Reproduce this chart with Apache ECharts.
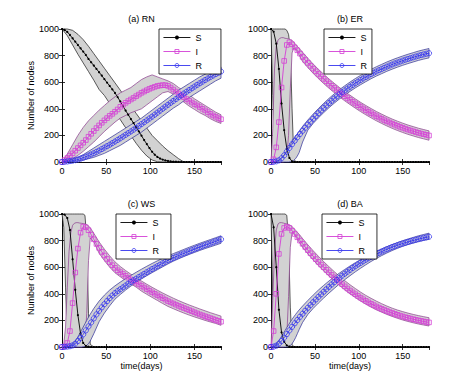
<!DOCTYPE html>
<html><head><meta charset="utf-8">
<script src="https://cdn.jsdelivr.net/npm/echarts@6/dist/echarts.min.js"></script>
<style>html,body{margin:0;padding:0;background:#fff}#c{width:474px;height:389px}</style>
</head><body><div id="c"></div>
<script>
// sample days of the mean curves (every 3 days)
const DAYS = Array.from({length: 61}, (_, i) => i * 3);
// sample days of the band envelopes
const BT_A = [0,6,12,18,24,30,36,42,48,54,60,66,72,78,84,90,96,102,108,114,120,126,132,138,144,150,156,162,168,174,180];
const BT = [0,2,4,6,8,10,12,14,16,18,20,22,24,26,28,30,32,36,42,48,54,60,66,72,78,84,90,96,102,108,114,120,126,132,138,144,150,156,162,168,174,180];

const TITLES = ['(a) RN', '(b) ER', '(c) WS', '(d) BA'];
const NAMES = ['S', 'I', 'R'];

// ---- (a) RN ----
const S_A = [1000,993,978,955,930,905,880,855,830,805,775,750,725,700,675,650,623,597,572,546,519,488,455,420,387,355,323,293,262,230,198,165,135,105,77,55,38,26,18,12,8,5,3,2,1,0,0,0,0,0,0,0,0,0,0,0,0,0,0,0,0];
const I_A = [0,15,30,48,65,85,105,125,145,165,190,212,233,255,275,295,313,330,347,362,378,395,415,430,445,458,470,482,495,507,520,530,540,550,558,565,572,575,578,578,572,560,545,530,515,500,487,473,460,447,435,425,413,400,388,375,362,350,340,330,322];
const R_A = [0,2,4,7,10,14,19,25,32,40,48,57,66,76,86,97,108,119,130,142,154,166,178,191,204,217,230,243,257,271,285,299,313,327,341,356,371,386,401,416,430,445,459,473,487,501,515,528,541,554,567,580,592,604,616,628,639,650,661,671,680];
const S_A_LO = [1000,950,880,810,745,680,615,545,500,440,380,318,258,198,140,88,45,15,2,0,0,0,0,0,0,0,0,0,0,0,0];
const S_A_HI = [1000,1000,990,960,920,870,815,760,705,650,595,540,480,420,365,310,255,200,160,120,85,55,25,0,0,0,0,0,0,0,0];
const I_A_LO = [0,10,25,50,80,115,150,190,230,265,300,330,350,370,385,400,430,460,490,520,530,510,480,450,420,395,370,350,325,305,290];
const I_A_HI = [0,60,130,200,260,310,350,390,425,460,490,520,540,560,590,620,640,655,640,625,610,590,560,535,505,475,450,425,400,375,355];
const R_A_LO = [0,0,3,8,15,25,35,50,65,85,105,125,150,175,200,225,255,285,315,345,375,405,430,460,485,510,535,560,585,610,630];
const R_A_HI = [0,10,20,35,55,80,105,130,155,180,205,230,255,280,305,330,360,390,420,450,480,510,540,565,590,615,640,660,680,700,715];

// ---- (b) ER ----
const S_B = [1000,980,890,700,440,240,100,30,5,0,0,0,0,0,0,0,0,0,0,0,0,0,0,0,0,0,0,0,0,0,0,0,0,0,0,0,0,0,0,0,0,0,0,0,0,0,0,0,0,0,0,0,0,0,0,0,0,0,0,0,0];
const I_B = [0,20,110,300,560,760,880,900,885,862,840,815,790,767,745,723,702,682,662,643,625,607,590,573,557,541,525,510,495,481,467,453,440,427,414,402,390,378,367,356,345,335,325,315,306,297,288,280,272,264,257,250,243,237,231,225,219,214,209,204,199];
const R_B = [0,2,5,12,28,50,78,106,134,160,186,211,235,258,281,303,325,346,367,387,406,425,443,460,477,493,509,524,538,552,566,579,592,604,616,628,639,650,661,671,681,690,699,708,717,725,733,741,748,755,762,769,775,781,787,793,799,804,809,814,818];
const S_B_LO = [1000,500,20,0,0,0,0,0,0,0,0,0,0,0,0,0,0,0,0,0,0,0,0,0,0,0,0,0,0,0,0,0,0,0,0,0,0,0,0,0,0,0];
const S_B_HI = [1000,1000,1000,1000,1000,1000,1000,1000,1000,990,960,850,400,30,0,0,0,0,0,0,0,0,0,0,0,0,0,0,0,0,0,0,0,0,0,0,0,0,0,0,0,0];
const I_B_LO = [0,0,0,0,0,0,0,0,5,40,200,550,820,860,845,825,805,755,710,667,627,590,555,522,490,460,432,405,379,355,332,310,290,271,253,237,222,208,196,184,174,164];
const I_B_HI = [0,250,700,870,915,930,935,935,930,928,925,920,915,900,885,870,855,825,780,737,697,660,625,592,560,530,502,475,449,425,402,380,360,341,323,307,292,278,266,254,244,234];
const R_B_LO = [0,0,0,0,0,0,0,0,0,0,0,2,5,12,25,45,70,150,240,290,332,371,408,442,474,503,531,557,581,604,626,646,664,682,698,713,727,740,752,764,774,783];
const R_B_HI = [0,0,2,5,10,18,30,45,62,85,108,130,152,172,192,212,230,268,316,360,402,441,478,512,544,573,601,627,651,674,696,716,734,752,768,783,797,810,822,834,844,853];

// ---- (c) WS ----
const S_C = [1000,995,970,880,660,430,240,100,30,8,2,0,0,0,0,0,0,0,0,0,0,0,0,0,0,0,0,0,0,0,0,0,0,0,0,0,0,0,0,0,0,0,0,0,0,0,0,0,0,0,0,0,0,0,0,0,0,0,0,0,0];
const I_C = [0,5,30,120,330,560,740,860,905,900,878,845,810,775,745,715,688,662,638,615,595,577,563,549,535,521,508,495,483,471,459,447,435,423,411,400,389,378,367,356,345,336,327,318,309,301,293,285,277,269,261,253,245,238,231,224,217,210,203,197,190];
const R_C = [0,1,3,6,12,25,45,68,95,125,155,185,215,245,272,298,322,345,367,387,405,420,434,448,462,476,489,502,514,526,538,550,562,574,586,597,608,619,630,641,652,661,670,679,688,696,704,712,720,728,736,744,752,759,766,773,780,787,795,802,810];
const S_C_LO = [1000,900,450,50,0,0,0,0,0,0,0,0,0,0,0,0,0,0,0,0,0,0,0,0,0,0,0,0,0,0,0,0,0,0,0,0,0,0,0,0,0,0];
const S_C_HI = [1000,1000,1000,1000,1000,1000,1000,1000,1000,1000,1000,1000,1000,990,820,250,20,0,0,0,0,0,0,0,0,0,0,0,0,0,0,0,0,0,0,0,0,0,0,0,0,0];
const I_C_LO = [0,0,0,0,0,0,0,0,0,0,0,0,5,40,250,650,820,790,705,650,600,558,528,500,474,450,420,396,373,350,327,305,288,271,255,240,226,213,200,188,177,163];
const I_C_HI = [0,20,150,450,720,860,915,930,935,935,932,930,928,925,920,910,895,855,790,735,685,640,605,575,547,521,496,472,449,427,406,386,367,349,332,316,301,286,272,258,245,232];
const R_C_LO = [0,0,0,0,0,0,0,0,0,0,0,0,2,5,12,25,45,100,190,255,310,360,395,428,458,486,512,536,559,581,603,625,645,663,680,696,711,726,740,753,766,780];
const R_C_HI = [0,0,1,3,6,12,22,36,54,76,100,125,150,175,200,224,247,290,345,390,428,460,488,514,538,562,585,607,628,648,667,685,702,718,734,750,765,780,794,808,822,836];

// ---- (d) BA ----
const S_D = [1000,900,600,280,110,40,12,3,0,0,0,0,0,0,0,0,0,0,0,0,0,0,0,0,0,0,0,0,0,0,0,0,0,0,0,0,0,0,0,0,0,0,0,0,0,0,0,0,0,0,0,0,0,0,0,0,0,0,0,0,0];
const I_D = [0,120,400,700,850,895,905,895,875,850,825,800,776,752,728,705,683,661,640,620,600,580,561,542,524,506,489,472,456,440,425,411,397,384,371,359,347,336,325,315,305,296,287,279,271,263,256,249,242,236,230,224,219,214,209,204,200,196,192,188,185];
const R_D = [0,3,10,25,45,70,97,125,152,178,203,227,250,273,295,316,337,357,377,396,415,434,452,470,487,504,520,536,551,566,580,594,607,620,632,644,656,667,678,688,698,708,717,726,735,743,751,758,765,772,778,784,790,796,801,806,811,816,821,825,829];
const S_D_LO = [1000,350,0,0,0,0,0,0,0,0,0,0,0,0,0,0,0,0,0,0,0,0,0,0,0,0,0,0,0,0,0,0,0,0,0,0,0,0,0,0,0,0];
const S_D_HI = [1000,1000,1000,1000,1000,1000,1000,1000,1000,990,800,300,20,0,0,0,0,0,0,0,0,0,0,0,0,0,0,0,0,0,0,0,0,0,0,0,0,0,0,0,0,0];
const I_D_LO = [0,0,0,0,0,0,0,0,10,80,380,750,860,850,830,810,790,750,700,655,612,572,534,498,463,430,400,372,346,322,300,280,262,245,230,216,203,192,182,173,165,158];
const I_D_HI = [0,350,720,880,925,935,935,932,928,925,920,915,905,892,878,863,848,815,768,724,682,642,604,567,532,499,468,440,413,388,366,345,326,308,292,278,266,255,245,236,228,220];
const R_D_LO = [0,0,0,0,0,0,0,0,0,0,3,10,25,45,70,100,130,185,245,290,330,368,405,440,474,506,536,565,592,618,643,666,687,707,725,742,757,770,782,793,802,810];
const R_D_HI = [0,2,8,20,38,58,80,102,124,146,167,188,208,227,245,262,278,308,350,390,428,463,496,527,556,583,609,634,657,679,700,719,737,754,770,785,799,812,824,836,846,856];

const PANELS = [
  {mean: [S_A, I_A, R_A], bt: BT_A, lo: [S_A_LO, I_A_LO, R_A_LO], hi: [S_A_HI, I_A_HI, R_A_HI]},
  {mean: [S_B, I_B, R_B], bt: BT, lo: [S_B_LO, I_B_LO, R_B_LO], hi: [S_B_HI, I_B_HI, R_B_HI]},
  {mean: [S_C, I_C, R_C], bt: BT, lo: [S_C_LO, I_C_LO, R_C_LO], hi: [S_C_HI, I_C_HI, R_C_HI]},
  {mean: [S_D, I_D, R_D], bt: BT, lo: [S_D_LO, I_D_LO, R_D_LO], hi: [S_D_HI, I_D_HI, R_D_HI]}
];

const FONT = '"Liberation Sans", Arial, sans-serif';
const COLORS = ['#000000', '#d43fd6', '#3535ee'];
const EDGE = ['#1a1a1a', '#8a3a8c', '#2c2c9a'];
const SYMBOLS = ['circle', 'rect', 'circle'];
const SYMSIZE = [2.2, 4.6, 5.2];
const BAND_FILL = '#d2d2d2';

const GRIDS = [
  {left: 62, top: 29, width: 159, height: 133},
  {left: 271, top: 29, width: 158, height: 133},
  {left: 62, top: 214, width: 159, height: 133},
  {left: 271, top: 214, width: 158, height: 133}
];
const LEGENDS = [
  {left: 159, top: 29, padR: 19},
  {left: 324, top: 29, padR: 5},
  {left: 116, top: 214, padR: 12},
  {left: 322, top: 214, padR: 12}
];

function styleOf(s) {
  return s === 0 ? {color: '#000', borderWidth: 0} :
    {color: 'rgba(255,255,255,0)', borderColor: COLORS[s], borderWidth: 0.8};
}

const xAxes = [], yAxes = [], series = [], legends = [], graphics = [];
PANELS.forEach((p, k) => {
  const g = GRIDS[k];
  const axLine = {show: true, lineStyle: {color: '#000', width: 0.8}};
  const tick = {show: true, inside: true, length: 3, lineStyle: {color: '#000', width: 0.8}};
  xAxes.push({
    gridIndex: k, type: 'value', min: 0, max: 180, interval: 50, position: 'bottom',
    axisLine: axLine, axisTick: tick, splitLine: {show: false},
    axisLabel: {fontSize: 9, color: '#000', fontFamily: FONT, margin: 4, showMaxLabel: false,
      formatter: v => String(v)},
    name: k >= 2 ? 'time(days)' : '', nameLocation: 'middle', nameGap: 14,
    nameTextStyle: {fontSize: 9, color: '#000', fontFamily: FONT}
  });
  xAxes.push({
    gridIndex: k, type: 'value', min: 0, max: 180, interval: 50, position: 'top',
    axisLine: axLine, axisTick: tick, splitLine: {show: false}, axisLabel: {show: false}
  });
  yAxes.push({
    gridIndex: k, type: 'value', min: 0, max: 1000, interval: 200, position: 'left',
    axisLine: axLine, axisTick: tick, splitLine: {show: false},
    axisLabel: {fontSize: 9, color: '#000', fontFamily: FONT, margin: 3, formatter: v => String(v)},
    name: (k % 2 === 0) ? 'Number of nodes' : '', nameLocation: 'middle', nameGap: 25,
    nameTextStyle: {fontSize: 9, color: '#000', fontFamily: FONT}
  });
  yAxes.push({
    gridIndex: k, type: 'value', min: 0, max: 1000, interval: 200, position: 'right',
    axisLine: axLine, axisTick: tick, splitLine: {show: false}, axisLabel: {show: false}
  });
  // envelopes
  for (let s = 0; s < 3; s++) {
    const bt = p.bt, lo = p.lo[s], hi = p.hi[s], edge = EDGE[s];
    series.push({
      type: 'custom', xAxisIndex: 2 * k, yAxisIndex: 2 * k, silent: true, z: 1 + s * 0.1,
      data: [[0, 0]],
      renderItem: (params, api) => {
        const pts = [];
        for (let i = 0; i < bt.length; i++) pts.push(api.coord([bt[i], hi[i]]));
        for (let i = bt.length - 1; i >= 0; i--) pts.push(api.coord([bt[i], lo[i]]));
        return {type: 'polygon', shape: {points: pts},
          style: {fill: BAND_FILL, stroke: edge, lineWidth: 0.7}};
      }
    });
  }
  // means
  for (let s = 0; s < 3; s++) {
    const arr = p.mean[s];
    series.push({
      type: 'line', name: NAMES[s], xAxisIndex: 2 * k, yAxisIndex: 2 * k, z: 3,
      data: DAYS.map((t, i) => [t, arr[i]]),
      symbol: SYMBOLS[s], symbolSize: SYMSIZE[s], showSymbol: true, silent: true,
      lineStyle: {color: COLORS[s], width: 0.9},
      itemStyle: styleOf(s)
    });
  }
  const L = LEGENDS[k];
  legends.push({
    data: NAMES.map((n, s) => ({name: n, itemStyle: styleOf(s),
      lineStyle: {color: COLORS[s], width: 0.9}})),
    orient: 'vertical', left: L.left, top: L.top,
    padding: [4, L.padR, 4, 4], itemWidth: 27, itemHeight: 5, itemGap: 5,
    backgroundColor: '#fff', borderColor: '#000', borderWidth: 0.8,
    textStyle: {fontSize: 9, color: '#000', fontFamily: FONT}, selectedMode: false
  });
  graphics.push({
    type: 'text', x: g.left + g.width / 2, y: g.top - 10,
    style: {text: TITLES[k], align: 'center', verticalAlign: 'middle',
      fontSize: 9, fontFamily: FONT, fill: '#000'}
  });
});

const chart = echarts.init(document.getElementById('c'), null, {renderer: 'svg'});
chart.setOption({
  animation: false,
  backgroundColor: '#fff',
  grid: GRIDS.map(g => Object.assign({containLabel: false, show: false}, g)),
  xAxis: xAxes, yAxis: yAxes, series: series, legend: legends, graphic: graphics
});
</script></body></html>
